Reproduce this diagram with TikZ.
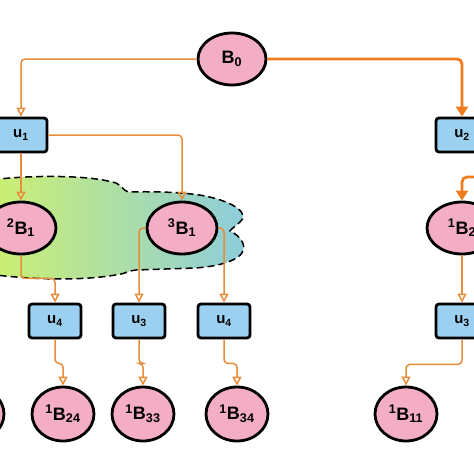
\documentclass[tikz,border=0pt]{standalone}
\usepackage{fontspec}
\setmainfont{Liberation Sans}
\usepackage{tikz}
\usetikzlibrary{arrows.meta,shapes.geometric}
\definecolor{statepink}{RGB}{243,174,198}
\definecolor{actblue}{RGB}{156,208,240}
\definecolor{linkorange}{RGB}{232,140,58}
\definecolor{mainorange}{RGB}{240,124,30}
\definecolor{cloudleft}{RGB}{212,244,100}
\definecolor{cloudmid}{RGB}{172,230,172}
\definecolor{cloudright}{RGB}{140,204,222}

\begin{document}
\begin{tikzpicture}[x=1pt,y=1pt,yscale=-1,xscale=1,
  state/.style={ellipse,draw=black,line width=2.8pt,fill=statepink,inner sep=0pt,
    minimum width=70pt,minimum height=52pt,font=\fontsize{18}{20}\selectfont\bfseries},
  leaf/.style={state,minimum width=62pt,minimum height=54pt},
  act/.style={rectangle,rounded corners=3pt,draw=black,line width=2.8pt,fill=actblue,inner sep=0pt,
    minimum width=52pt,minimum height=34pt,font=\fontsize{15}{17}\selectfont\bfseries},
  link/.style={draw=linkorange,line width=1.5pt,rounded corners=4pt,-{Triangle[open,length=9pt,width=9pt]}},
  mainlink/.style={draw=mainorange,line width=2.8pt,rounded corners=5pt,-{Triangle[length=10pt,width=12pt]}}]
\useasboundingbox (0,0) rectangle (474,474);

%Shape: Cloud
\shade [left color=cloudleft,middle color=cloudmid,right color=cloudright,draw=black,line width=1.5pt,dash pattern=on 7pt off 4pt]
  (-40,186) .. controls (-10,176) and (80,172) .. (116,183)
  .. controls (121,185) and (123,190) .. (128,192)
  .. controls (160,191) and (190,193) .. (205,196)
  .. controls (235,202) and (250,214) .. (240,222)
  .. controls (236,226) and (232,228) .. (230,231)
  .. controls (241,236) and (250,248) .. (238,257)
  .. controls (228,264) and (210,267) .. (195,268)
  -- (136,270)
  .. controls (128,271) and (126,273) .. (121,274)
  .. controls (80,282) and (20,280) .. (-40,270) -- cycle;

% Text Node
\node [state,minimum width=68pt] (b0) at (232,59) {B\textsubscript{0}};
\node [act] (u1) at (21,135) {u\textsubscript{1}};
\node [act] (u2) at (462,135) {u\textsubscript{2}};
\node [state] (b21) at (21,228) {\textsuperscript{2}B\textsubscript{1}};
\node [state] (b31) at (182,228) {\textsuperscript{3}B\textsubscript{1}};
\node [state] (b12) at (462,228) {\textsuperscript{1}B\textsubscript{2}};
\node [act] (u4a) at (55,321) {u\textsubscript{4}};
\node [act] (u3a) at (139,321) {u\textsubscript{3}};
\node [act] (u4b) at (224,321) {u\textsubscript{4}};
\node [act] (u3b) at (462,321) {u\textsubscript{3}};
\node [leaf] (bx) at (-27,414) {};
\node [leaf] (b124) at (63,414) {\textsuperscript{1}B\textsubscript{24}};
\node [leaf] (b133) at (143,414) {\textsuperscript{1}B\textsubscript{33}};
\node [leaf] (b134) at (237,414) {\textsuperscript{1}B\textsubscript{34}};
\node [leaf] (b111) at (406,414) {\textsuperscript{1}B\textsubscript{11}};
\coordinate (turn) at (500,177);

%Straight Lines
\draw [link] (b0.west) -| (u1.north);
\draw [mainlink] (b0.east) -| (u2.north);
\draw [link] (u1.east) -| (b31.north);
\draw [link] (u1.south) -- (b21.north);
\draw [mainlink] (u2.east) -| (turn) -| (b12.north);
\draw [link] (b21.south) -- ++(0,23) -| (u4a.north);
\draw [link] (b31.west) -| (u3a.north);
\draw [link] (b31.east) -| (u4b.north);
\draw [link] (b12.south) -- (u3b.north);
\draw [link] (u4a.south) -- ++(0,24) -| (b124.north);
\draw [link] (u3a.south) -- ++(0,24) -| (b133.north);
\draw [link] (u4b.south) -- ++(0,24) -| (b134.north);
\draw [link] (u3b.south) -- ++(0,25) -| (b111.north);

\end{tikzpicture}
\end{document}
